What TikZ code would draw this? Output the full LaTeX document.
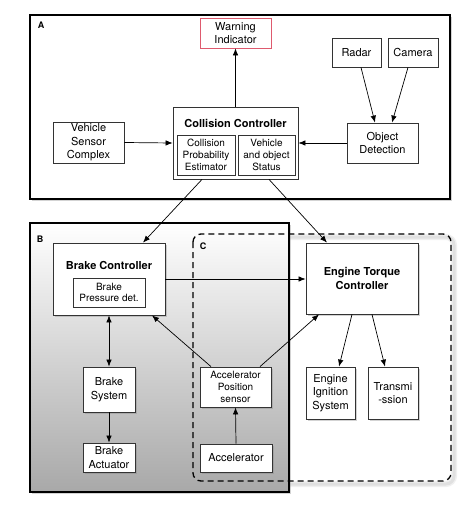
\documentclass[tikz,border=0pt]{standalone}
\usepackage{fontspec}
\setmainfont{TeX Gyre Heros}
\usetikzlibrary{arrows.meta,shadows}

\begin{document}
\begin{tikzpicture}[x=1pt, y=-1pt,
  blk/.style={draw=black!80, fill=white, line width=0.8pt, align=center, inner sep=0pt, font=\fontsize{11}{13.5}\selectfont},
  sub/.style={blk, font=\fontsize{10}{11.7}\selectfont},
  shd/.style={drop shadow={shadow xshift=2pt, shadow yshift=-2pt, opacity=0.35}},
  arr/.style={-{Latex[length=7pt,width=5.5pt]}, line width=0.7pt},
  ttl/.style={font=\bfseries\fontsize{11}{13.5}\selectfont, align=center, inner sep=0pt},
  tag/.style={font=\bfseries\fontsize{9}{10}\selectfont, inner sep=0pt}]
\useasboundingbox (0,0) rectangle (474,530);

% group frames
\draw[line width=6pt, black!6, rounded corners=8pt] (196,237) rectangle (454,484);
\draw[line width=3pt, black!12, rounded corners=8pt] (196,237) rectangle (454,484);
\node[draw, line width=1.5pt, top color=white, bottom color=black!34, shd, minimum width=259pt, minimum height=269pt, inner sep=0pt] (boxB) at (159.5,357.5) {};
\draw[line width=1.3pt, dash pattern=on 6pt off 4pt, rounded corners=8pt] (193,234) rectangle (451,481);
\node[draw, line width=1.5pt, fill=white, shd, minimum width=420pt, minimum height=184pt, inner sep=0pt] (boxA) at (240,107) {};
\node[tag] (tagA) at (41,25) {A};
\node[tag] (tagB) at (40,239) {B};
\node[tag] (tagC) at (203,246) {C};

% part A
\node[blk, draw={rgb,255:red,222;green,90;blue,110}, minimum width=71pt, minimum height=30pt] (warn) at (235.5,33) {Warning\\Indicator};
\node[blk, minimum width=49pt, minimum height=29pt] (radar) at (356.5,52.5) {Radar};
\node[blk, minimum width=50pt, minimum height=29pt] (cam) at (413,52.5) {Camera};
\node[blk, minimum width=71pt, minimum height=40pt] (objdet) at (382.5,143) {Object\\Detection};
\node[blk, minimum width=71pt, minimum height=41pt] (vsc) at (88.5,142.5) {Vehicle\\Sensor\\Complex};
\node[blk, minimum width=125pt, minimum height=72pt] (coll) at (235.5,143) {};
\node[ttl] (colltitle) at (235.5,123) {Collision Controller};
\node[sub, minimum width=58pt, minimum height=40pt] (cpe) at (206,155) {Collision\\Probability\\Estimator};
\node[sub, minimum width=57pt, minimum height=40pt] (vos) at (266.5,155) {Vehicle\\and object\\Status};

% parts B and C
\node[blk, shd, minimum width=112pt, minimum height=72pt] (brakectl) at (109,279) {};
\node[ttl] (braketitle) at (109,265) {Brake Controller};
\node[sub, minimum width=72pt, minimum height=29pt] (bpd) at (109,292.5) {Brake\\Pressure det.};
\node[blk, shd, minimum width=112pt, minimum height=71pt, font=\bfseries\fontsize{11}{13.5}\selectfont] (etc) at (362,278.5) {Engine Torque\\Controller};
\node[blk, shd, minimum width=52pt, minimum height=45pt] (bsys) at (109,389.5) {Brake\\System};
\node[blk, shd, minimum width=52pt, minimum height=29pt] (bact) at (109,457.5) {Brake\\Actuator};
\node[sub, shd, minimum width=71pt, minimum height=40pt] (aps) at (235.5,387) {Accelerator\\Position\\sensor};
\node[blk, shd, minimum width=72pt, minimum height=28pt] (accel) at (236,458) {Accelerator};
\node[blk, shd, minimum width=49pt, minimum height=52pt] (eis) at (330.5,393) {Engine\\Ignition\\System};
\node[blk, shd, minimum width=50pt, minimum height=52pt] (trans) at (393,393) {Transmi\\-ssion};

% connectors
\draw[arr] (coll.north) -- (warn.south);
\draw[arr] ([xshift=4.5pt]radar.south) -- ([xshift=-7.5pt]objdet.north);
\draw[arr] ([xshift=-5pt]cam.south) -- ([xshift=9.5pt]objdet.north);
\draw[arr] (vsc.east) -- (coll.west);
\draw[arr] (objdet.west) -- (coll.east);
\draw[arr] ([xshift=-33.5pt]coll.south) -- ([xshift=34pt]brakectl.north);
\draw[arr] ([xshift=33.5pt]coll.south) -- ([xshift=-35pt]etc.north);
\draw[arr] (brakectl.east) -- (brakectl.east -| etc.west);
\draw[{Latex[length=7pt,width=5.5pt]}-{Latex[length=7pt,width=5.5pt]}, line width=0.7pt] (brakectl.south) -- (bsys.north);
\draw[arr] (bsys.south) -- (bact.north);
\draw[arr] ([xshift=-24.5pt]aps.north) -- ([xshift=43pt]brakectl.south);
\draw[arr] ([xshift=24.5pt]aps.north) -- ([xshift=-43pt]etc.south);
\draw[arr] (accel.north) -- (aps.south);
\draw[arr] ([xshift=-10pt]etc.south) -- ([xshift=8.5pt]eis.north);
\draw[arr] ([xshift=10pt]etc.south) -- ([xshift=-8pt]trans.north);
\end{tikzpicture}
\end{document}
